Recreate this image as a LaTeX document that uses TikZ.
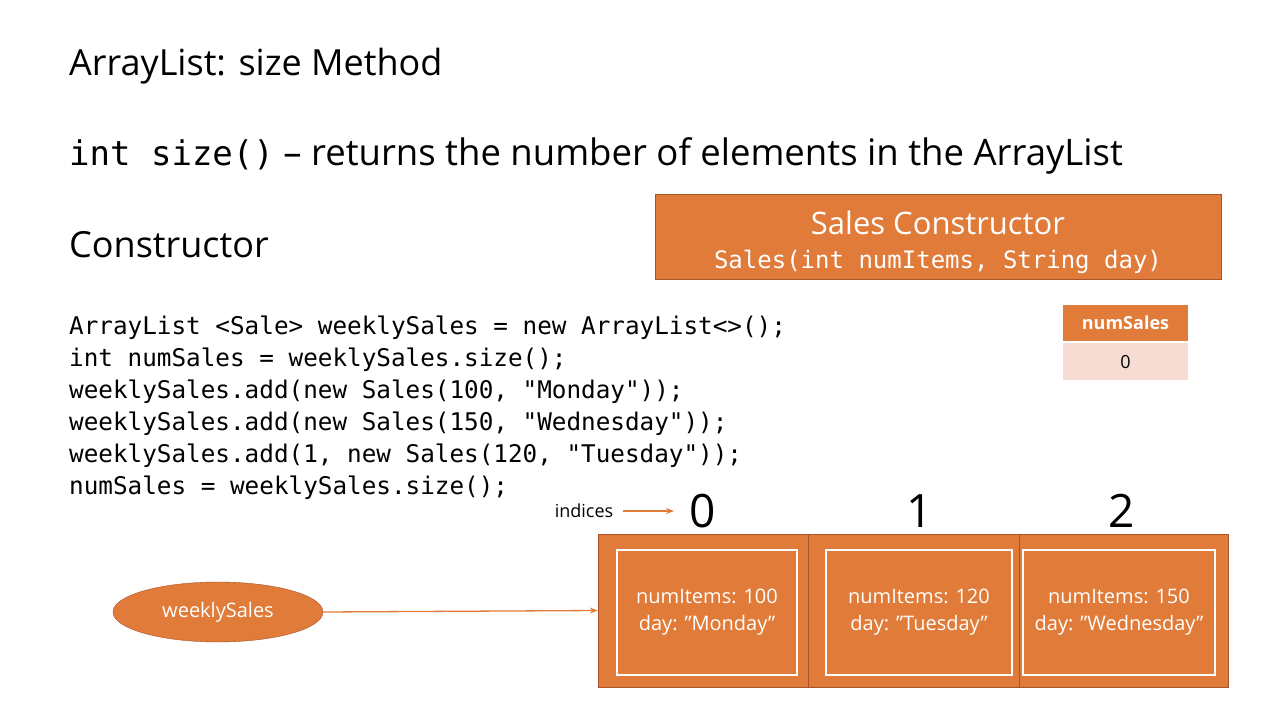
\documentclass[tikz,border=0pt]{standalone}
\usepackage{fontspec}
\setmainfont{Open Sans}
\setmonofont{DejaVu Sans Mono}
\usetikzlibrary{arrows.meta,positioning,shapes.geometric}
\definecolor{orng}{HTML}{E07B39}
\definecolor{orngdark}{HTML}{A9542A}
\definecolor{pinkcell}{HTML}{F6DCD3}
\newcommand{\fs}[1]{\fontsize{#1}{1.35\dimexpr#1pt\relax}\selectfont}
\newcommand{\dq}{\char34}
\tikzset{
  cell/.style={draw=orngdark, fill=orng, minimum height=153pt, inner sep=0pt},
  inner/.style={draw=white, line width=2.5pt, minimum height=125pt, text=white, align=center, font=\fs{20}},
  codeline/.style={anchor=west, font=\ttfamily\fs{24.3}, inner sep=0pt},
  idx/.style={font=\fs{46}, inner sep=0pt},
  link/.style={draw=orng, line width=1.3pt, -{Stealth[length=8pt]}}
}
\begin{document}
\begin{tikzpicture}[x=1pt,y=-1pt]
\useasboundingbox (0,0) rectangle (1280,720);
\node[anchor=west, inner sep=0pt, font=\fs{36}] (title) at (69,66) {ArrayList: size Method};
\node[anchor=west, inner sep=0pt, font=\fs{36.5}] (sizeline) at (69,156) {{\ttfamily\fs{34}int size()} -- returns the number of elements in the ArrayList};
\node[anchor=west, inner sep=0pt, font=\fs{36}] (ctor) at (69,245) {Constructor};

%% constructor box
\node[draw=orngdark, fill=orng, minimum width=566pt, minimum height=85pt, inner sep=0pt] (salesbox) at (938,236.5) {};
\node[text=white, font=\fs{31}, inner sep=0pt] (salestitle) at (938,223) {Sales Constructor};
\node[text=white, font=\ttfamily\fs{24}, inner sep=0pt] (salessig) at (938,262) {Sales(int numItems, String day)};

%% code
\node[codeline] (c1) at (69,328) {ArrayList <Sale> weeklySales = new ArrayList<>();};
\node[codeline] (c2) at (69,360) {int numSales = weeklySales.size();};
\node[codeline] (c3) at (69,392) {weeklySales.add(new Sales(100, "Monday"));};
\node[codeline] (c4) at (69,424) {weeklySales.add(new Sales(150, "Wednesday"));};
\node[codeline] (c5) at (69,456) {weeklySales.add(1, new Sales(120, "Tuesday"));};
\node[codeline] (c6) at (69,488) {numSales = weeklySales.size();};

%% numSales variable
\node[fill=orng, minimum width=125pt, minimum height=36pt, inner sep=0pt, text=white, font=\bfseries\fs{18}] (numhead) at (1125.5,323) {numSales};
\node[fill=pinkcell, minimum width=125pt, minimum height=37pt, inner sep=0pt, font=\fs{18}, below=2pt of numhead] (numval) {0};

%% array
\node[cell, minimum width=210pt] (cell0) at (703,610.5) {};
\node[cell, minimum width=211pt] (cell1) at (913.5,610.5) {};
\node[cell, minimum width=209pt] (cell2) at (1123.5,610.5) {};
\node[inner, minimum width=180pt] (item0) at (707,612.5) {numItems: 100\\day: \dq Monday\dq};
\node[inner, minimum width=186pt] (item1) at (919,612.5) {numItems: 120\\day: \dq Tuesday\dq};
\node[inner, minimum width=192pt] (item2) at (1119,612.5) {numItems: 150\\day: \dq Wednesday\dq};
\node[idx] (i0) at (703,511) {0};
\node[idx] (i1) at (920,511) {1};
\node[idx] (i2) at (1122,511) {2};
\node[font=\fs{18}, inner sep=0pt] (indices) at (584,511) {indices};
\coordinate (indend) at (674,511);
\draw[link] (indices.east) ++(10,0) -- (indend);

%% reference
\node[ellipse, draw=orngdark, fill=orng, minimum width=210pt, minimum height=60pt, inner sep=0pt, text=white, font=\fs{20}] (ref) at (218,612) {weeklySales};
\draw[link] (ref.east) -- (cell0.west);
\end{tikzpicture}
\end{document}
